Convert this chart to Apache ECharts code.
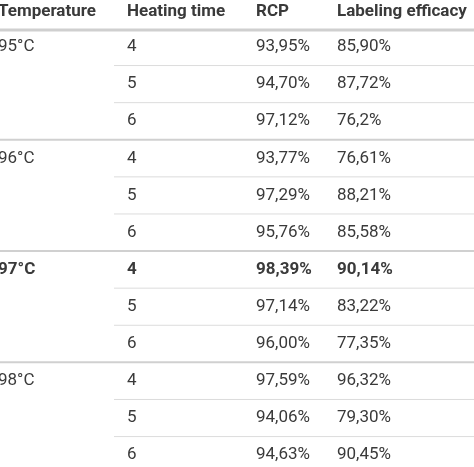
<!DOCTYPE html>
<html><head><meta charset="utf-8">
<script src="https://cdn.jsdelivr.net/npm/echarts@6/dist/echarts.min.js"></script>
<style>html,body{margin:0;padding:0;background:#fff}#c{width:474px;height:467px}</style>
</head><body><div id="c"></div>
<script>
const headers = ['Temperature', 'Heating time', 'RCP', 'Labeling efficacy'];
const temperatures = ['95°C', '96°C', '97°C', '98°C'];
const heatingTimes = ['4', '5', '6', '4', '5', '6', '4', '5', '6', '4', '5', '6'];
const rcp = ['93,95%', '94,70%', '97,12%', '93,77%', '97,29%', '95,76%', '98,39%', '97,14%', '96,00%', '97,59%', '94,06%', '94,63%'];
const labeling = ['85,90%', '87,72%', '76,2%', '76,61%', '88,21%', '85,58%', '90,14%', '83,22%', '77,35%', '96,32%', '79,30%', '90,45%'];
const boldRow = 6;

const colX = [-2, 127, 256, 337];
const textData = [];
headers.forEach((h, c) => textData.push({value: [colX[c], -0.94], t: h, bold: true}));
for (let i = 0; i < 12; i++) {
  const b = i === boldRow;
  if (i % 3 === 0) textData.push({value: [colX[0], i], t: temperatures[i / 3], bold: b});
  textData.push({value: [colX[1], i], t: heatingTimes[i], bold: b});
  textData.push({value: [colX[2], i], t: rcp[i], bold: b});
  textData.push({value: [colX[3], i], t: labeling[i], bold: b});
}
const lines = [{value: [0, -0.46, 474, 3, '#cfcfcf']}];
for (let i = 0; i < 11; i++) {
  if (i % 3 === 2) lines.push({value: [0, i + 0.5, 474, 2, '#d0d0d0']});
  else lines.push({value: [114, i + 0.5, 474, 1, '#dcdcdc']});
}
const chart = echarts.init(document.getElementById('c'));
chart.setOption({
  animation: false,
  grid: {left: 0, right: 0, top: 0, bottom: 0},
  xAxis: {type: 'value', min: 0, max: 474, show: false},
  yAxis: {type: 'value', min: -1.267, max: 11.32, inverse: true, show: false},
  series: [
    {type: 'custom', data: lines, renderItem: (p, api) => {
      const a = api.coord([api.value(0), api.value(1)]);
      const b = api.coord([api.value(2), api.value(1)]);
      return {type: 'line', shape: {x1: a[0], y1: a[1], x2: b[0], y2: b[1]},
        style: {stroke: lines[p.dataIndex].value[4], lineWidth: api.value(3)}};
    }},
    {type: 'custom', data: textData, renderItem: (p, api) => {
      const a = api.coord([api.value(0), api.value(1)]);
      const d = textData[p.dataIndex];
      return {type: 'text', x: a[0], y: a[1], style: {text: d.t, fill: '#3a3a3a',
        font: (d.bold ? 'bold ' : '') + '17px Roboto', textAlign: 'left', textVerticalAlign: 'middle'}};
    }}
  ]
});
</script></body></html>
